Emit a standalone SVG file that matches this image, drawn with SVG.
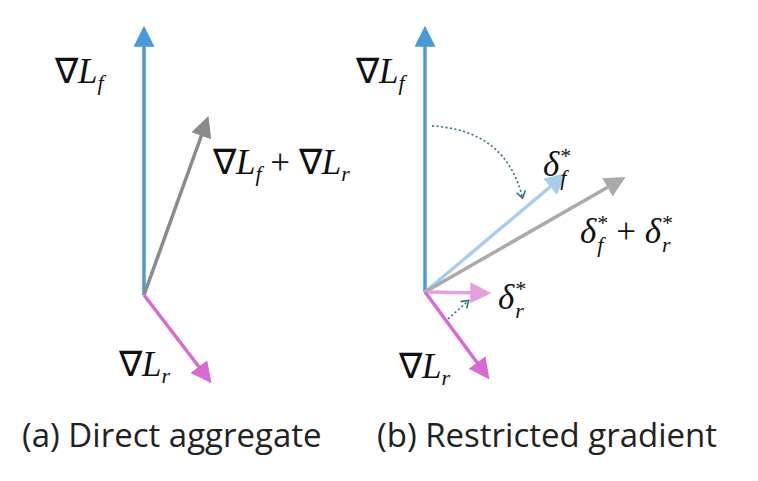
<svg xmlns="http://www.w3.org/2000/svg" width="758" height="481" viewBox="0 0 758 481">
<style>
.m{font-family:"Liberation Serif",serif;font-size:35px;fill:#111}
.i{font-style:italic}
.s{font-size:22px}
.c{font-family:"Open Sans","Liberation Sans",sans-serif;font-size:33px;fill:#222}
line{stroke-width:3.5}
.d{fill:none;stroke:#2d6a84;stroke-width:1.6;stroke-dasharray:2 2.5}
</style>
<defs>
<marker id="hb" viewBox="0 0 10 10" refX="8" refY="5" markerWidth="6" markerHeight="6" orient="auto"><path d="M0,0L10,5L0,10z" fill="#4a9ada"/></marker>
<marker id="hg" viewBox="0 0 10 10" refX="8" refY="5" markerWidth="6" markerHeight="6" orient="auto"><path d="M0,0L10,5L0,10z" fill="#8a8a8a"/></marker>
<marker id="hg2" viewBox="0 0 10 10" refX="8" refY="5" markerWidth="6" markerHeight="6" orient="auto"><path d="M0,0L10,5L0,10z" fill="#aaaaaa"/></marker>
<marker id="hp" viewBox="0 0 10 10" refX="8" refY="5" markerWidth="6" markerHeight="6" orient="auto"><path d="M0,0L10,5L0,10z" fill="#d86ad0"/></marker>
<marker id="hp2" viewBox="0 0 10 10" refX="8" refY="5" markerWidth="6" markerHeight="6" orient="auto"><path d="M0,0L10,5L0,10z" fill="#e3a0dd"/></marker>
<marker id="hl" viewBox="0 0 10 10" refX="8" refY="5" markerWidth="6" markerHeight="6" orient="auto"><path d="M0,0L10,5L0,10z" fill="#a9cdee"/></marker>
<marker id="hd" viewBox="0 0 10 10" refX="5" refY="5" markerWidth="7" markerHeight="7" orient="auto"><path d="M1,1L7,5L1,9" fill="none" stroke="#2d6a84" stroke-width="1.4"/></marker>
</defs>
<g id="connectors">
<line x1="144" y1="295" x2="144" y2="30" stroke="#4a9ada" marker-end="url(#hb)"/>
<line x1="144" y1="295" x2="207" y2="120" stroke="#8a8a8a" marker-end="url(#hg)"/>
<line x1="144" y1="295" x2="209" y2="380" stroke="#d86ad0" marker-end="url(#hp)"/>
<line x1="425" y1="292" x2="425" y2="30" stroke="#4a9ada" marker-end="url(#hb)"/>
<line x1="425" y1="292" x2="563" y2="176" stroke="#a9cdee" marker-end="url(#hl)"/>
<line x1="425" y1="292" x2="622" y2="179" stroke="#aaaaaa" marker-end="url(#hg2)"/>
<line x1="425" y1="292" x2="487" y2="293" stroke="#e3a0dd" marker-end="url(#hp2)"/>
<line x1="425" y1="292" x2="487" y2="376" stroke="#d86ad0" marker-end="url(#hp)"/>
<path class="d" d="M432,126 Q505,130 522,196" marker-end="url(#hd)"/>
<path class="d" d="M448,319 L467,302" marker-end="url(#hd)"/>
</g>
<g id="labels">
<text class="m" x="55" y="83">∇<tspan class="i">L</tspan><tspan class="i s" dy="7">f</tspan></text>
<text class="m" x="213" y="174">∇<tspan class="i">L</tspan><tspan class="i s" dy="7">f</tspan><tspan dy="-7"> + ∇</tspan><tspan class="i">L</tspan><tspan class="i s" dy="7">r</tspan></text>
<text class="m" x="119" y="376">∇<tspan class="i">L</tspan><tspan class="i s" dy="7">r</tspan></text>
<text class="m" x="356" y="83">∇<tspan class="i">L</tspan><tspan class="i s" dy="7">f</tspan></text>
<text class="m" x="543" y="176"><tspan class="i">δ</tspan><tspan class="i s" dy="-13">*</tspan><tspan class="i s" dx="-10" dy="22">f</tspan></text>
<text class="m" x="580" y="243"><tspan class="i">δ</tspan><tspan class="i s" dy="-13">*</tspan><tspan class="i s" dx="-10" dy="22">f</tspan><tspan dx="4" dy="-9"> + </tspan><tspan class="i">δ</tspan><tspan class="i s" dy="-13">*</tspan><tspan class="i s" dx="-10" dy="22">r</tspan></text>
<text class="m" x="498" y="309"><tspan class="i">δ</tspan><tspan class="i s" dy="-13">*</tspan><tspan class="i s" dx="-10" dy="22">r</tspan></text>
<text class="m" x="399" y="378">∇<tspan class="i">L</tspan><tspan class="i s" dy="7">r</tspan></text>
<text class="c" x="22" y="447">(a) Direct aggregate</text>
<text class="c" x="377" y="447">(b) Restricted gradient</text>
</g>
</svg>
